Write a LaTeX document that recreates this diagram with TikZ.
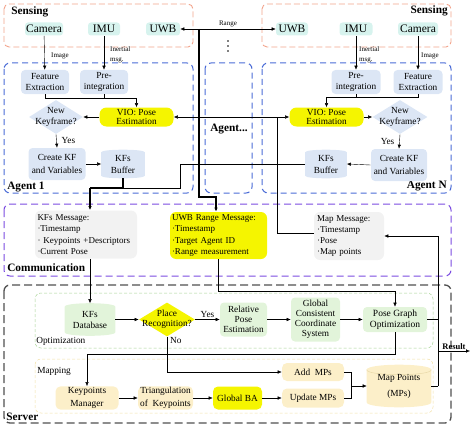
\documentclass[tikz,border=0pt]{standalone}
\usepackage{fontspec}
\setmainfont{Liberation Serif}
\usetikzlibrary{arrows.meta,shapes.geometric,calc}
\pgfdeclarelayer{background}
\pgfsetlayers{background,main}
\definecolor{sensfill}{HTML}{D7F3EE}
\definecolor{agfill}{HTML}{DCE6F5}
\definecolor{vioyel}{HTML}{F5F500}
\definecolor{msgfill}{HTML}{F2F2F2}
\definecolor{optfill}{HTML}{E2F4DA}
\definecolor{mapfill}{HTML}{FCEFC9}
\definecolor{mapedge}{HTML}{E8D8A8}
\definecolor{sensline}{HTML}{F2A48C}
\definecolor{agline}{HTML}{4A6BD6}
\definecolor{comline}{HTML}{7B4BE0}
\definecolor{srvline}{HTML}{505050}
\definecolor{optline}{HTML}{A5D392}
\definecolor{mapline}{HTML}{F2DFA4}
\newcommand\myfs[2]{\fontsize{#1}{#2}\selectfont}
\newcommand\mycylfill[3]{%
  \fill[#2] ([yshift=-#3]#1.north west) -- ([yshift=#3]#1.south west)
    .. controls ([yshift=-#3/3]#1.south west) and ([yshift=-#3/3]#1.south east) .. ([yshift=#3]#1.south east)
    -- ([yshift=-#3]#1.north east)
    .. controls ([yshift=#3/3]#1.north east) and ([yshift=#3/3]#1.north west) .. cycle;}
\begin{document}
\hyphenpenalty=10000
\exhyphenpenalty=10000
\begin{tikzpicture}[x=1pt,y=-1pt,
  >={Latex[length=4pt,width=3.4pt]},
  line width=0.6pt,
  every node/.style={font=\myfs{9.3}{10.5}, inner sep=1pt, align=center},
  thk/.style={line width=1.2pt},
  sensnode/.style={fill=sensfill, rounded corners=3pt, font=\myfs{11.5}{13}, minimum height=13pt},
  agnode/.style={fill=agfill, rounded corners=4pt},
  vionode/.style={fill=vioyel, rounded corners=7pt, font=\myfs{9.3}{8.6}, minimum width=74pt, minimum height=19pt},
  diam/.style={diamond, inner sep=0pt},
  msgnode/.style={fill=msgfill, rounded corners=6pt, align=left, font=\myfs{9}{11.3}},
  optnode/.style={fill=optfill, rounded corners=4pt},
  mapnode/.style={fill=mapfill, rounded corners=5pt},
  title/.style={font=\bfseries\myfs{11.3}{13}, inner sep=0pt},
  lbl/.style={font=\myfs{7}{9.5}, inner sep=0pt, align=left},
  sensbox/.style={draw=sensline, dash pattern=on 6pt off 3pt, rounded corners=5pt, line width=0.9pt},
  agbox/.style={draw=agline, dash pattern=on 6pt off 4pt, rounded corners=6pt, line width=1pt},
  combox/.style={draw=comline, dash pattern=on 7pt off 4pt, rounded corners=6pt, line width=1pt},
  srvbox/.style={draw=srvline, dash pattern=on 8pt off 4pt, rounded corners=6pt, line width=1.3pt},
  optbox/.style={draw=optline, dash pattern=on 3pt off 2pt, rounded corners=6pt, line width=0.5pt},
  mapbox/.style={draw=mapline, dash pattern=on 3pt off 2pt, rounded corners=6pt, line width=0.5pt}
]
\useasboundingbox (0,0) rectangle (474,428);

% ---------- frames ----------
\draw[sensbox] (4,4) rectangle (193,47);
\draw[sensbox] (262,4) rectangle (451,47);
\draw[agbox] (4,63) rectangle (193,193);
\draw[agbox] (205,63) rectangle (252,193);
\draw[agbox] (262,63) rectangle (451,193);
\draw[combox] (4,204) rectangle (451,276);
\draw[srvbox] (4,285) rectangle (451,423);
\draw[optbox] (35,293) rectangle (433,348);
\draw[mapbox] (35,359) rectangle (433,413);

\node[title, anchor=west] (sensL) at (11,12) {Sensing};
\node[title, anchor=east] (sensR) at (448,11) {Sensing};
\node[title, anchor=west] (ag1lbl) at (7,187) {Agent 1};
\node[title] (agdots) at (229,129) {Agent...};
\node[title, anchor=east] (agNlbl) at (447,186) {Agent N};
\node[title, anchor=west] (comlbl) at (7,268) {Communication};
\node[title, anchor=west] (srvlbl) at (6,417) {Server};
\node[anchor=west, inner sep=0pt] (optlbl) at (36,341) {Optimization};
\node[anchor=west, inner sep=0pt] (maplbl) at (37,371) {Mapping};
% vertical ellipsis between agents
\foreach \yy in {41,46,51} \fill (228,\yy) circle (0.9pt);

% ---------- sensing ----------
\node[sensnode, minimum width=38pt] (cam1) at (44,29) {Camera};
\node[sensnode, minimum width=32pt] (imu1) at (104,29) {IMU};
\node[sensnode, minimum width=34pt] (uwb1) at (163,29) {UWB};
\node[sensnode, minimum width=32pt] (uwbN) at (292,29) {UWB};
\node[sensnode, minimum width=33pt] (imuN) at (356,29) {IMU};
\node[sensnode, minimum width=40pt] (camN) at (418,29) {Camera};

% ---------- agent 1 ----------
\node[agnode, minimum width=48pt, minimum height=24pt] (fe1) at (45,82) {Feature\\Extraction};
\node[agnode, minimum width=48pt, minimum height=24pt] (pi1) at (104,82) {Pre-\\integration};
\node[vionode] (vio1) at (136.5,117) {VIO: Pose\\Estimation};
\node[diam, fill=agfill, minimum width=54pt, minimum height=34pt] (kf1) at (56,117) {};
\node[font=\myfs{9.3}{11}] (kf1t) at (kf1) {New\\Keyframe?};
\node[agnode, minimum width=57pt, minimum height=32pt, font=\myfs{9.3}{12.5}] (ck1) at (57,164) {Create KF\\and Variables};
\node[minimum width=43pt, minimum height=28pt, font=\myfs{9.3}{12}] (kb1) at (123,164) {KFs\\Buffer};

% ---------- agent N ----------
\node[agnode, minimum width=49pt, minimum height=24pt] (piN) at (356,82) {Pre-\\integration};
\node[agnode, minimum width=49pt, minimum height=24pt] (feN) at (418,82) {Feature\\Extraction};
\node[vionode] (vioN) at (326.5,117) {VIO: Pose\\Estimation};
\node[diam, fill=agfill, minimum width=55pt, minimum height=34pt] (kfN) at (400,117) {};
\node[font=\myfs{9.3}{11}] (kfNt) at (kfN) {New\\Keyframe?};
\node[agnode, minimum width=56pt, minimum height=32pt, font=\myfs{9.3}{12.5}] (ckN) at (399,165) {Create KF\\and Variables};
\node[minimum width=41pt, minimum height=28pt, font=\myfs{9.3}{12}] (kbN) at (326,164) {KFs\\Buffer};

% ---------- communication ----------
\node[msgnode, text width=97pt, inner xsep=2.5pt, minimum height=48pt] (kfm) at (86,234.5)
  {KFs Message:\\·Timestamp\\· Keypoints +Descriptors\\·Current Pose};
\node[msgnode, fill=vioyel, text width=93pt, inner xsep=2pt, minimum height=47pt] (uwbm) at (218.5,235.5)
  {UWB Range Message:\\·Timestamp\\·Target Agent ID\\·Range measurement};
\node[msgnode, text width=64pt, inner xsep=3pt, minimum height=48pt] (mapm) at (349,236)
  {Map Message:\\·Timestamp\\·Pose\\·Map points};

% ---------- optimization ----------
\node[minimum width=50pt, minimum height=32pt, font=\myfs{9.3}{11}] (kfdb) at (90,319.5) {KFs\\Database};
\node[diam, fill=vioyel, minimum width=56pt, minimum height=34pt] (pr) at (167,319.5) {};
\node[font=\myfs{9.3}{10}] (prt) at (pr) {Place\\Recognition?};
\node[optnode, minimum width=47pt, minimum height=34pt, font=\myfs{9.3}{9.8}] (rpe) at (243.5,319.5) {Relative\\Pose\\Estimation};
\node[optnode, minimum width=49pt, minimum height=44pt, font=\myfs{9.3}{10}] (gccs) at (315.5,319.5) {Global\\Consistent\\Coordinate\\System};
\node[optnode, minimum width=64pt, minimum height=25pt, font=\myfs{9.5}{11}] (pgo) at (395,319.5) {Pose Graph\\Optimization};

% ---------- mapping ----------
\node[mapnode, minimum width=63pt, minimum height=23pt, font=\myfs{9.3}{13}] (km) at (87,398) {Keypoints\\Manager};
\node[mapnode, minimum width=55pt, minimum height=23pt, font=\myfs{9.3}{13}] (tri) at (165.5,398) {Triangulation\\of~~Keypoints};
\node[mapnode, fill=vioyel, minimum width=49pt, minimum height=23pt] (gba) at (237.5,398) {Global BA};
\node[mapnode, minimum width=62pt, minimum height=18pt] (addmp) at (313,372) {Add~~MPs};
\node[mapnode, minimum width=62pt, minimum height=19pt] (updmp) at (313,398) {Update MPs};
\node[minimum width=64pt, minimum height=42pt, font=\myfs{9.3}{16}] (mp) at (399,386) {Map Points\\(MPs)};

\begin{pgfonlayer}{background}
  \mycylfill{kb1}{agfill}{2.5pt}
  \mycylfill{kbN}{agfill}{2.5pt}
  \mycylfill{kfdb}{optfill}{3.5pt}
  \mycylfill{mp}{mapfill}{5pt}
  \draw[mapedge, line width=0.5pt] ([yshift=-5pt]mp.north west)
    .. controls ([yshift=-11.67pt]mp.north west) and ([yshift=-11.67pt]mp.north east) .. ([yshift=-5pt]mp.north east);
\end{pgfonlayer}

% ---------- connectors ----------
% range
\draw[<->] (uwb1.east) -- node[lbl, above=1.5pt] (rangelbl) {Range} (uwbN.west);
\coordinate (rtop) at (199,29);
\coordinate (rbend) at (199,197);
\draw[thk,->] (rtop) -- (rbend) -| ([xshift=-2.5pt]uwbm.north);

% sensing to agents
\draw[->] (cam1) -- (fe1);
\node[lbl, anchor=west] (img1) at (51,56) {Image};
\draw[->] (imu1) -- (pi1);
\node[lbl, anchor=west] (ine1) at (110,55) {Inertial\\msg.};
\draw[->] (camN) -- (feN);
\node[lbl, anchor=west] (imgN) at (421,56) {Image};
\draw[->] (imuN) -- (piN);
\node[lbl, anchor=west] (ineN) at (359,55) {Inertial\\msg.};

% agent 1 internals
\coordinate (j1) at (136.5,98);
\draw (fe1.south) |- (j1);
\draw (pi1.south) -- (pi1.south |- j1);
\draw[->] (j1) -- (vio1.north);
\draw[->] (vio1.west) -- (kf1.east);
\draw[->] (kf1.south) -- node[right=4pt] (yes1) {Yes} (ck1.north);
\draw[->] (ck1.east) -- (kb1.west);

% agent N internals
\coordinate (jN) at (326.5,97);
\draw (feN.south) |- (jN);
\draw (piN.south) -- (piN.south |- jN);
\draw[->] (jN) -- (vioN.north);
\draw[->] (vioN.east) -- (kfN.west);
\draw[->] (kfN.south) -- node[left=4pt] (yesN) {Yes} (ckN.north);
\draw[->] (ckN.west) -- (kbN.east);

% KFs buffers to KFs message
\coordinate (kfin) at (90,188);
\coordinate (kfnb) at (180,164);
\draw[thk] (kb1.south) |- (kfin);
\draw[thk,->] (kfin) -- (kfin |- kfm.north);
\draw (kbN.west) -- (kfnb) -- (kfnb |- kfin) -- (kb1.south |- kfin);

% map message to VIOs
\coordinate (mv) at (277,117);
\draw ([yshift=3pt]mapm.west) -| (mv);
\draw[->] (mv) -- (vio1.east);
\draw[->] (mv) -- (vioN.west);

% communication to server
\coordinate (ub) at (218.5,291);
\draw[->] (uwbm.south) -- (uwbm.south |- ub) -| (pgo.north);
\draw[->] ([xshift=4pt]kfm.south) -- (kfdb.north);

% optimization chain
\draw[->] (kfdb.east) -- (pr.west);
\draw[->] (pr.east) -- node[above=1pt] (yes2) {Yes} (rpe.west);
\draw[->] (rpe.east) -- (gccs.west);
\draw[->] (gccs.east) -- (pgo.west);
\draw[->] (pr.south) |- (addmp.west);
\node[anchor=west, inner sep=0pt] (nolbl) at (170,340) {No};
\coordinate (pk) at (395,354);
\draw[->] (pgo.south) -- (pk) -| (km.north);

% mapping chain
\draw[->] (km.east) -- (tri.west);
\draw[->] (tri.east) -- (gba.west);
\draw[->] (gba.east) -- (updmp.west);
\coordinate (mj) at (351,386);
\draw (addmp.east) -| (mj);
\draw (updmp.east) -| (mj);
\draw[->] (mj) -- (mp.west);

% results and map message
\coordinate (rx) at (438,386);
\coordinate (rs) at (438,351);
\coordinate (re) at (470,351);
\draw (mp.east) -- (rx);
\draw (pgo.east) -- (pgo.east -| rx);
\draw[->] (rx) |- (mapm.east);
\draw[->] (rs) -- node[above=0.5pt, font=\bfseries\myfs{8.5}{10}] (reslbl) {Result} (re);
\end{tikzpicture}
\end{document}
